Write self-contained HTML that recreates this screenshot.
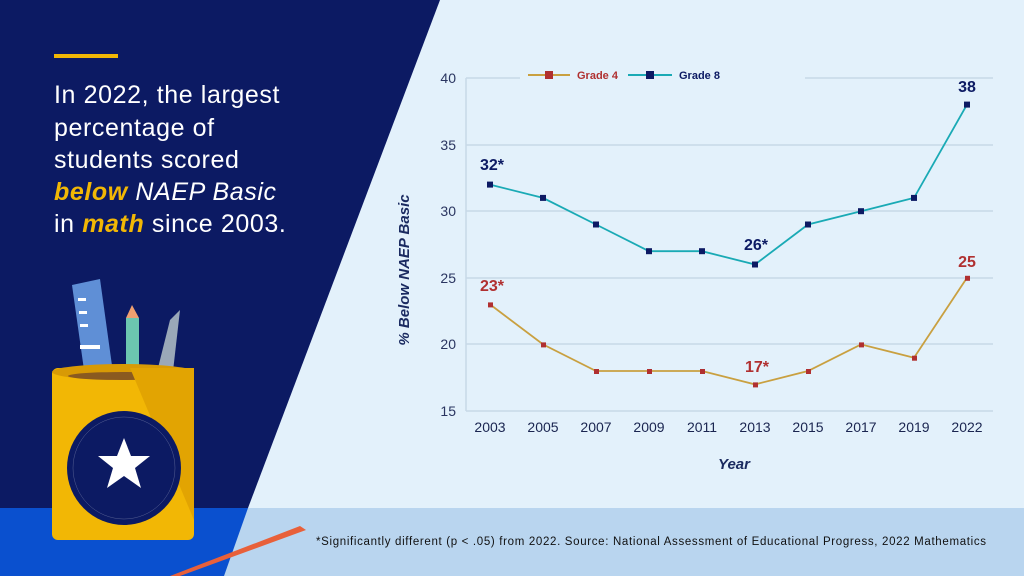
<!DOCTYPE html>
<html><head><style>body{margin:0;width:1024px;height:576px;overflow:hidden}</style></head><body>
<svg width="1024" height="576" xmlns="http://www.w3.org/2000/svg" font-family="Liberation Sans, sans-serif">
<rect width="1024" height="576" fill="#e3f1fb"/>
<polygon points="0,0 440,0 248,508 0,508" fill="#0c1a63"/>
<rect x="0" y="508" width="1024" height="68" fill="#b9d5ef"/>
<polygon points="0,508 248,508 224,576 0,576" fill="#0a50cf"/>
<rect x="54" y="54" width="64" height="4" fill="#f2b705"/>
<g fill="#fff" font-size="25" letter-spacing="0.6">
<text x="54" y="103">In 2022, the largest</text>
<text x="54" y="136">percentage of</text>
<text x="54" y="168">students scored</text>
<text x="54" y="200"><tspan fill="#f2b705" font-weight="bold" font-style="italic">below</tspan> <tspan font-style="italic">NAEP Basic</tspan></text>
<text x="54" y="232">in <tspan fill="#f2b705" font-weight="bold" font-style="italic">math</tspan> since 2003.</text>
</g>
<!-- cup -->
<polygon points="72,285 100,279 114,380 86,384" fill="#5f8fd6"/>
<g fill="#fff"><rect x="78" y="298" width="8" height="3"/><rect x="79" y="311" width="8" height="3"/><rect x="80" y="324" width="8" height="3"/><rect x="80" y="345" width="20" height="4"/></g>
<rect x="126" y="318" width="13" height="66" fill="#6cc6b0"/>
<polygon points="126,318 132,305 139,318" fill="#f0a070"/>
<polygon points="155,380 170,320 180,310 172,380" fill="#9aa8b8"/>
<rect x="52" y="368" width="142" height="172" rx="6" fill="#f2b705"/>
<ellipse cx="123" cy="372" rx="71" ry="8" fill="#d89a05"/>
<ellipse cx="123" cy="376" rx="55" ry="4" fill="#8a5a20"/>
<polygon points="130,368 194,368 194,520" fill="#e2a402"/>
<circle cx="124" cy="468" r="57" fill="#0c1a63"/>
<circle cx="124" cy="468" r="51" fill="none" stroke="#fff" stroke-width="0.5" opacity="0.3"/>
<polygon points="124,438 131,456 150,456 135,468 141,488 124,476 107,488 113,468 98,456 117,456" fill="#fff"/>
<polygon points="170,576 300,526 306,530 180,576" fill="#e8603a"/>
<!-- chart -->
<g stroke="#c7d9e8" stroke-width="1.5">
<line x1="466" y1="78" x2="520" y2="78"/><line x1="805" y1="78" x2="993" y2="78"/>
<line x1="466" y1="145" x2="993" y2="145"/>
<line x1="466" y1="211" x2="993" y2="211"/>
<line x1="466" y1="278" x2="993" y2="278"/>
<line x1="466" y1="344" x2="993" y2="344"/>
<line x1="466" y1="411" x2="993" y2="411"/>
<line x1="466" y1="78" x2="466" y2="411"/>
</g>
<g fill="#2a3560" font-size="14" text-anchor="end">
<text x="456" y="83">40</text><text x="456" y="150">35</text><text x="456" y="216">30</text><text x="456" y="283">25</text><text x="456" y="349">20</text><text x="456" y="416">15</text>
</g>
<g fill="#1a2550" font-size="14" text-anchor="middle">
<text x="490" y="432">2003</text><text x="543" y="432">2005</text><text x="596" y="432">2007</text><text x="649" y="432">2009</text><text x="702" y="432">2011</text><text x="755" y="432">2013</text><text x="808" y="432">2015</text><text x="861" y="432">2017</text><text x="914" y="432">2019</text><text x="967" y="432">2022</text>
</g>
<text x="734" y="469" text-anchor="middle" font-size="15" font-weight="bold" font-style="italic" fill="#1a2a60">Year</text>
<text transform="translate(409,270) rotate(-90)" text-anchor="middle" font-size="15" font-weight="bold" font-style="italic" fill="#1a2a60">% Below NAEP Basic</text>
<!-- legend -->
<line x1="528" y1="75" x2="570" y2="75" stroke="#c9a040" stroke-width="2"/><rect x="545" y="71" width="8" height="8" fill="#b03030"/>
<text x="577" y="79" font-size="11" font-weight="bold" fill="#b03030">Grade 4</text>
<line x1="628" y1="75" x2="672" y2="75" stroke="#1aaab5" stroke-width="2"/><rect x="646" y="71" width="8" height="8" fill="#0c1a63"/>
<text x="679" y="79" font-size="11" font-weight="bold" fill="#0c1a63">Grade 8</text>
<!-- series -->
<polyline fill="none" stroke="#1aaab5" stroke-width="1.8" points="490,184.6 543,197.9 596,224.5 649,251.2 702,251.2 755,264.5 808,224.5 861,211.2 914,197.9 967,104.6"/>
<g fill="#0c1a63"><rect x="487" y="181.6" width="6" height="6"/><rect x="540" y="194.9" width="6" height="6"/><rect x="593" y="221.5" width="6" height="6"/><rect x="646" y="248.2" width="6" height="6"/><rect x="699" y="248.2" width="6" height="6"/><rect x="752" y="261.5" width="6" height="6"/><rect x="805" y="221.5" width="6" height="6"/><rect x="858" y="208.2" width="6" height="6"/><rect x="911" y="194.9" width="6" height="6"/><rect x="964" y="101.6" width="6" height="6"/></g>
<polyline fill="none" stroke="#c9a040" stroke-width="1.8" points="490,304.4 543,344.4 596,371 649,371 702,371 755,384.4 808,371 861,344.4 914,357.7 967,277.8"/>
<g fill="#b03030"><rect x="488" y="302.4" width="5" height="5"/><rect x="541" y="342.4" width="5" height="5"/><rect x="594" y="369" width="5" height="5"/><rect x="647" y="369" width="5" height="5"/><rect x="700" y="369" width="5" height="5"/><rect x="753" y="382.4" width="5" height="5"/><rect x="806" y="369" width="5" height="5"/><rect x="859" y="342.4" width="5" height="5"/><rect x="912" y="355.7" width="5" height="5"/><rect x="965" y="275.8" width="5" height="5"/></g>
<g font-size="16" font-weight="bold" text-anchor="middle">
<text x="492" y="170" fill="#0c1a63">32*</text><text x="756" y="250" fill="#0c1a63">26*</text><text x="967" y="92" fill="#0c1a63">38</text>
<text x="492" y="291" fill="#b03030">23*</text><text x="757" y="372" fill="#b03030">17*</text><text x="967" y="267" fill="#b03030">25</text>
</g>
<text x="316" y="545" font-size="11.5" fill="#111" textLength="670" lengthAdjust="spacing">*Significantly different (p &lt; .05) from 2022.  Source: National Assessment of Educational Progress, 2022 Mathematics</text>
</svg>
</body></html>
